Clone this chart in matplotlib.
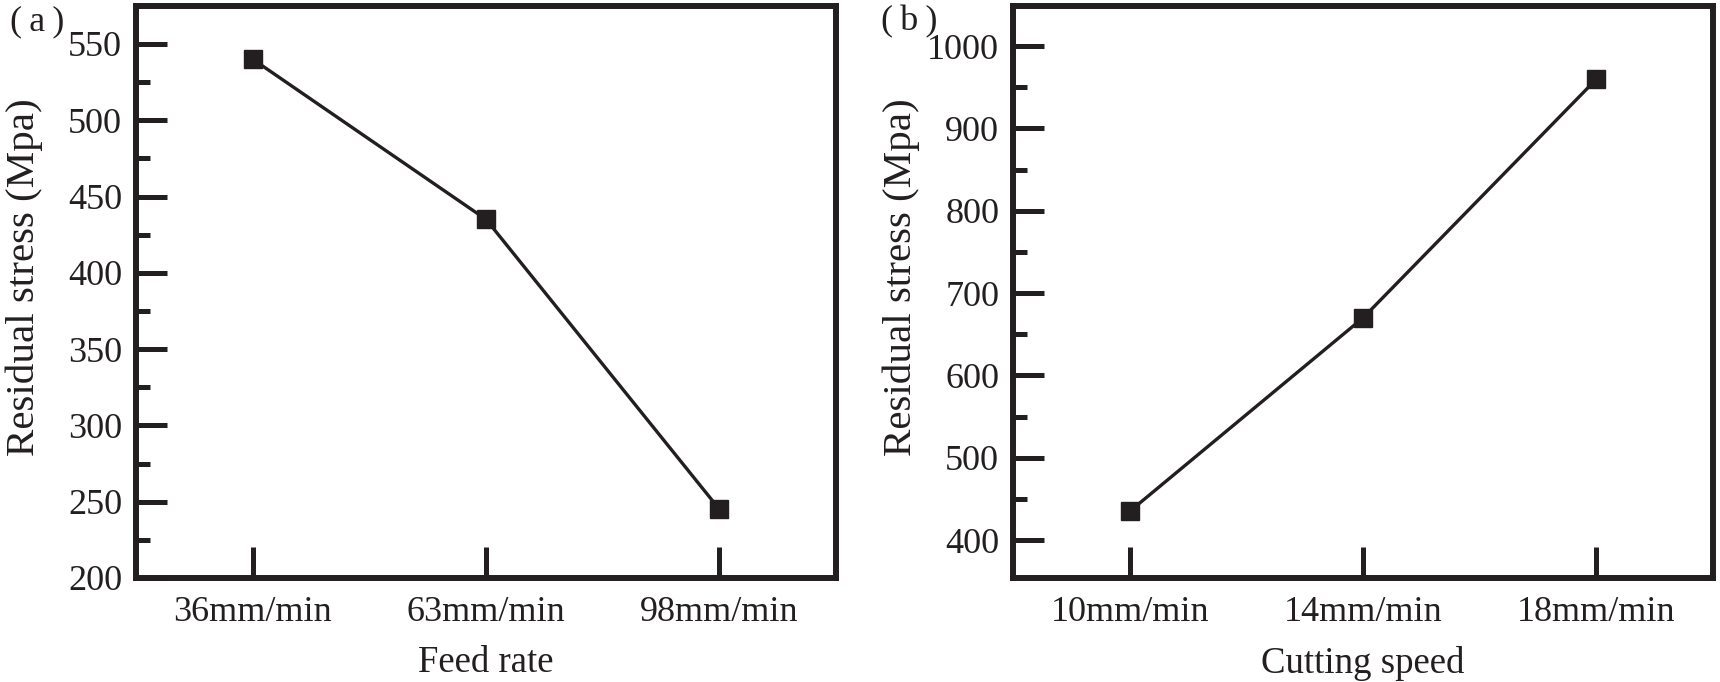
import numpy as np
import matplotlib.pyplot as plt
from matplotlib.ticker import MultipleLocator

plt.rcParams['font.family'] = ['Liberation Serif', 'DejaVu Serif']

# data
feed_labels = ["36mm/min", "63mm/min", "98mm/min"]
feed_stress = [540, 435, 245]
speed_labels = ["10mm/min", "14mm/min", "18mm/min"]
speed_stress = [435, 670, 960]

fig = plt.figure(figsize=(17.2, 6.82), dpi=100)
ax1 = fig.add_axes([0.0791, 0.1525, 0.407, 0.839])
ax2 = fig.add_axes([0.589, 0.1525, 0.407, 0.839])

panels = [
    (ax1, feed_labels, feed_stress, "Feed rate", (200, 575), 50, "a", 0.006),
    (ax2, speed_labels, speed_stress, "Cutting speed", (354, 1049), 100, "b", 0.512),
]

for ax, labels, vals, xlab, ylim, step, tag, tx in panels:
    x = np.arange(len(labels))
    ax.plot(x, vals, color="#231f20", lw=2.4, marker="s", ms=13,
            markerfacecolor="#231f20", markeredgecolor="#231f20")
    ax.set_xlim(-0.5, 2.5)
    ax.set_ylim(*ylim)
    ax.set_xticks(x)
    ax.set_xticklabels(labels)
    ax.yaxis.set_major_locator(MultipleLocator(step))
    ax.yaxis.set_minor_locator(MultipleLocator(step / 2))
    for s in ax.spines.values():
        s.set_linewidth(4.3)
        s.set_color("#231f20")
    ax.tick_params(axis="both", which="major", direction="in", length=22, width=3.6,
                   color="#231f20", labelsize=26, pad=10, labelcolor="#231f20")
    ax.tick_params(axis="y", which="minor", direction="in", length=10, width=3.6,
                   color="#231f20")
    ax.tick_params(axis="x", which="minor", length=0)
    ax.tick_params(axis="x", pad=13)
    ax.set_xlabel(xlab, fontsize=26.5, labelpad=12, color="#231f20")
    ax.set_ylabel("Residual stress (Mpa)", fontsize=29.5, color="#231f20",
                  va="center")
    ax.yaxis.set_label_coords(-0.16, 0.526)
    # panel tag
    fig.text(tx, 0.968, "(\u2009" + tag + "\u2009)", fontsize=26, ha="left",
             va="center", color="#231f20")

fig.savefig("out.png", dpi=100)
